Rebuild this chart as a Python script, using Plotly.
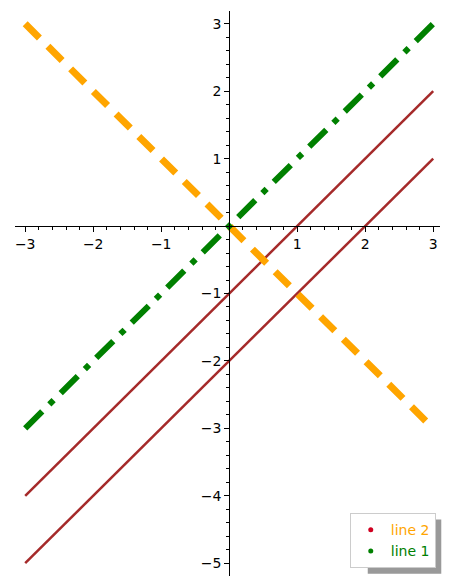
import plotly.graph_objects as go

x_ends = [-3, 3]
line2_y = [3, -3]
line1_y = [-3, 3]
brown_a_y = [-4, 2]
brown_b_y = [-5, 1]
xt = [-3, -2, -1, 1, 2, 3]
yt = [-5, -4, -3, -2, -1, 1, 2, 3]

fig = go.Figure()
fig.add_trace(go.Scatter(x=x_ends, y=brown_a_y, mode="lines", line=dict(color="#a52a2a", width=2.5), showlegend=False))
fig.add_trace(go.Scatter(x=x_ends, y=brown_b_y, mode="lines", line=dict(color="#a52a2a", width=2.5), showlegend=False))
fig.add_trace(go.Scatter(x=x_ends, y=line2_y, mode="lines", line=dict(color="orange", width=7, dash="20px,12px"), showlegend=False))
fig.add_trace(go.Scatter(x=x_ends, y=line1_y, mode="lines", line=dict(color="green", width=6, dash="24px,10px,6px,10px"), showlegend=False))
fig.add_trace(go.Scatter(x=[None], y=[None], mode="markers", marker=dict(color="#d00020", size=5),
                         name="<span style='color:orange'>line 2</span>"))
fig.add_trace(go.Scatter(x=[None], y=[None], mode="markers", marker=dict(color="green", size=5),
                         name="<span style='color:green'>line 1</span>"))

xr = [-3.15, 3.1]
yr = [-5.19, 3.19]
ax_common = dict(showgrid=False, zeroline=False, showline=True, linecolor="black", linewidth=1.2,
                 ticks="outside", ticklen=5, tickcolor="black", tickfont=dict(family="DejaVu Sans", size=14, color="black"),
                 minor=dict(ticks="outside", ticklen=3, dtick=0.2, tickcolor="black"), automargin=False)
fig.update_xaxes(range=xr, tickvals=xt, ticktext=["\u2212" + str(-v) if v < 0 else str(v) for v in xt],
                 anchor="free", position=(0 - yr[0]) / (yr[1] - yr[0]), **ax_common)
fig.update_yaxes(range=yr, tickvals=yt, ticktext=["\u2212" + str(-v) if v < 0 else str(v) for v in yt],
                 anchor="free", position=(0 - xr[0]) / (xr[1] - xr[0]), **ax_common)
fig.update_layout(width=450, height=585, margin=dict(l=7, r=18, t=3, b=17),
                  plot_bgcolor="white", paper_bgcolor="white",
                  legend=dict(x=0.99, y=0.014, xanchor="right", yanchor="bottom", bgcolor="white",
                              bordercolor="#cccccc", borderwidth=1, font=dict(family="DejaVu Sans", size=14),
                              tracegroupgap=0),
                  shapes=[dict(type="rect", xref="paper", yref="paper", x0=0.83, x1=1.003, y0=0.004, y1=0.10,
                               fillcolor="#999999", line=dict(width=0), layer="below")])
fig.write_html("out.html")
